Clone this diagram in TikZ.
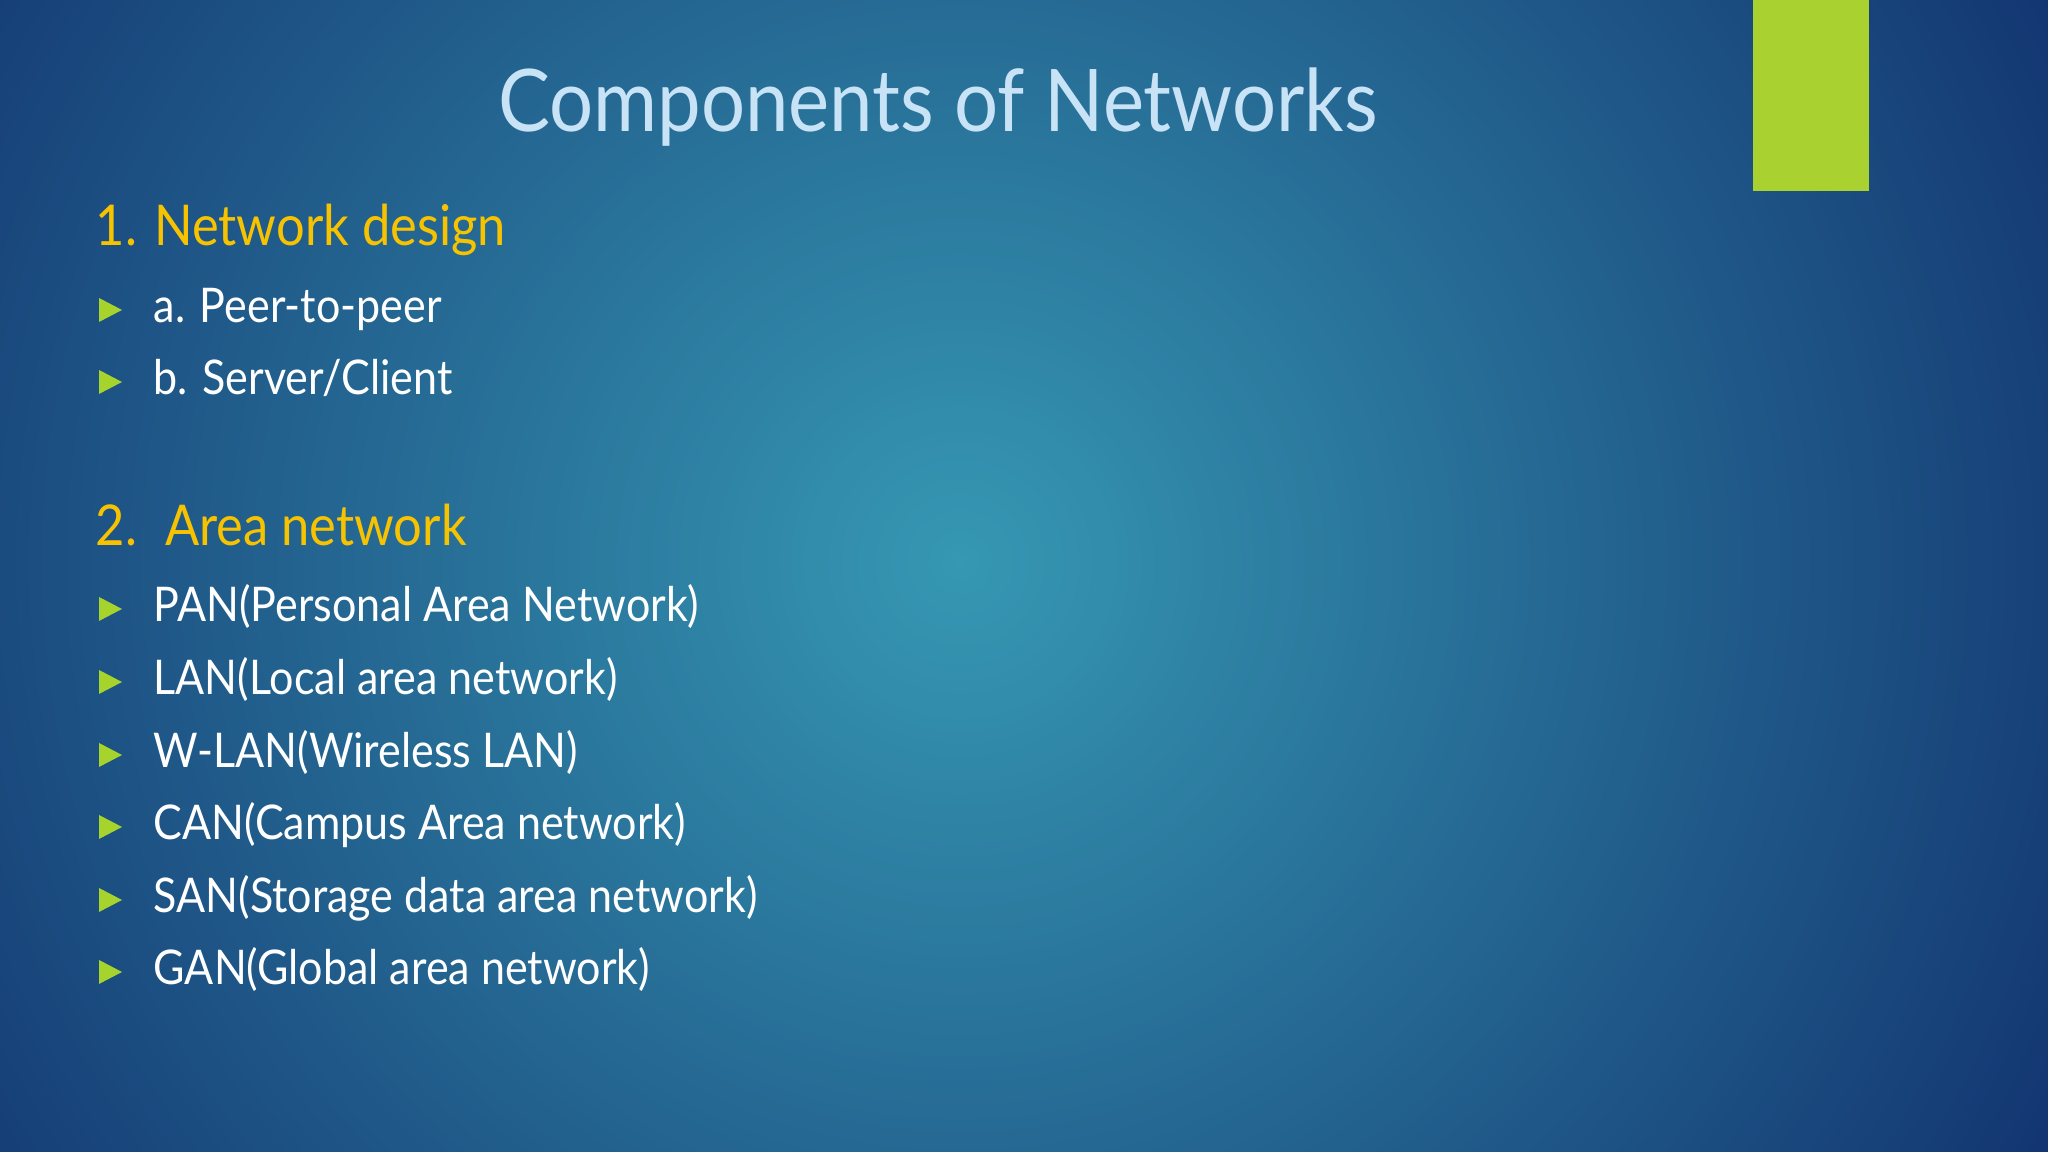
\documentclass[tikz,border=0pt]{standalone}
\usepackage{fontspec}
\setmainfont{Lato}[FakeStretch=0.9]
\definecolor{bgdark}{HTML}{0E2868}
\definecolor{bgmid}{HTML}{3698B3}
\definecolor{titlecol}{HTML}{C8E2F6}
\definecolor{headcol}{HTML}{F7C300}
\definecolor{bulletcol}{HTML}{A6D32C}
\definecolor{barcol}{HTML}{A9D12F}
\tikzset{
  heading/.style={anchor=west,inner sep=0pt,text=headcol,font=\fontsize{16}{18}\selectfont,text height=0.72em,text depth=0pt},
  item/.style={anchor=west,inner sep=0pt,text=white,font=\fontsize{13.6}{15}\selectfont,text height=0.72em,text depth=0pt},
  bullet/.style={fill=bulletcol}
}
\begin{document}
\begin{tikzpicture}
\useasboundingbox (0,0) rectangle (20.48,11.52);
\fill[bgdark] (0,0) rectangle (20.48,11.52);
\begin{scope}
\clip (0,0) rectangle (20.48,11.52);
\shade[inner color=bgmid, outer color=bgdark] (9.6,5.9) circle (14cm);
\end{scope}
\fill[barcol] (17.53,9.61) rectangle (18.69,11.52);
\node[text=titlecol,font=\fontsize{24.6}{27}\selectfont,inner sep=0pt] (title) at (9.38,10.45) {Components of Networks};
\node[heading] (h1) at (0.95,9.19) {1. Network design};
\node[heading] (h2) at (0.95,6.19) {2.\hspace{0.5em}Area network};
\foreach \y/\t/\n in {8.42/{a. Peer-to-peer}/i1, 7.70/{b. Server/Client}/i2, 5.43/{PAN(Personal Area Network)}/i3, 4.70/{LAN(Local area network)}/i4, 3.97/{W-LAN(Wireless LAN)}/i5, 3.25/{CAN(Campus Area network)}/i6, 2.52/{SAN(Storage data area network)}/i7, 1.80/{GAN(Global area network)}/i8}{
  \fill[bullet] (0.99,\y+0.12) -- (1.22,\y) -- (0.99,\y-0.12) -- cycle;
  \node[item] (\n) at (1.53,\y) {\t};
}
\end{tikzpicture}
\end{document}
